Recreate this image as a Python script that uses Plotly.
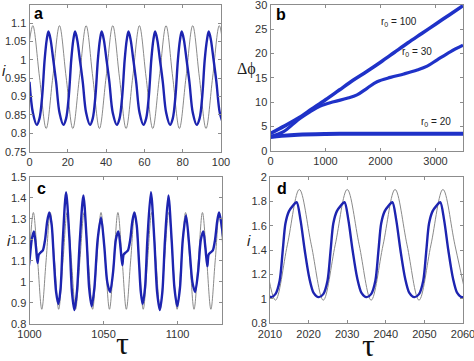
import plotly.graph_objects as go

# ---------------- Panel a ----------------
a_grey_x = [0, 1.74, 5.22, 8.70, 12.17, 15.65, 19.13, 22.61, 26.09, 29.57, 33.04, 36.52, 40.0,
            43.48, 46.96, 50.43, 53.91, 57.39, 60.87, 64.35, 67.83, 71.30, 74.78, 78.26, 81.74,
            85.22, 88.70, 92.17, 95.65, 99.13, 102.6]
a_grey_y = [1.052, 1.093, 0.953, 0.813, 0.953, 1.093, 0.953, 0.813, 0.953, 1.093, 0.953, 0.813, 0.953,
            1.093, 0.953, 0.813, 0.953, 1.093, 0.953, 0.813, 0.953, 1.093, 0.953, 0.813, 0.953,
            1.093, 0.953, 0.813, 0.953, 1.093, 0.953]

a_blue_x = [0, 1.8, 3.8, 5.2, 6.6, 7.9, 9.0, 9.9, 11.0, 12.3, 13.9, 15.7, 17.7, 19.1, 20.5, 21.8, 22.9,
            23.8, 24.9, 26.2, 27.8, 29.6, 31.6, 33.0, 34.4, 35.7, 36.8, 37.7, 38.8, 40.1, 41.7, 43.5,
            45.6, 47.0, 48.4, 49.7, 50.8, 51.7, 52.8, 54.1, 55.7, 57.5, 59.5, 60.9, 62.3, 63.6, 64.7,
            65.6, 66.7, 68.0, 69.6, 71.4, 73.4, 74.8, 76.2, 77.5, 78.6, 79.5, 80.6, 81.9, 83.5, 85.3,
            87.3, 88.8, 90.2, 91.5, 92.7, 93.6, 94.7, 96.0, 97.6, 99.4, 101.4]
a_blue_y = [0.94, 0.855, 0.823, 0.84, 0.90, 1.0, 1.055, 1.077, 1.055, 1.005, 0.94, 0.855, 0.823, 0.84,
            0.90, 1.0, 1.055, 1.077, 1.055, 1.005, 0.94, 0.855, 0.823, 0.84, 0.90, 1.0, 1.055, 1.077,
            1.055, 1.005, 0.94, 0.855, 0.823, 0.84, 0.90, 1.0, 1.055, 1.077, 1.055, 1.005, 0.94, 0.855,
            0.823, 0.84, 0.90, 1.0, 1.055, 1.077, 1.055, 1.005, 0.94, 0.855, 0.823, 0.84, 0.90, 1.0,
            1.055, 1.077, 1.055, 1.005, 0.94, 0.855, 0.823, 0.84, 0.90, 1.0, 1.055, 1.077, 1.055,
            1.005, 0.94, 0.855, 0.823]

a_xticks = [0, 20, 40, 60, 80, 100]
a_yticks = [0.75, 0.8, 0.85, 0.9, 0.95, 1.0, 1.05, 1.1]
a_yticklabels = ["0.75", "0.8", "0.85", "0.9", "0.95", "1", "1.05", "1.1"]

# ---------------- Panel b ----------------
b_r100_x = [0, 250, 500, 750, 1000, 1250, 1500, 1750, 2000, 2250, 2500, 2750, 3000, 3250, 3500]
b_r100_y = [3.6, 5.1, 6.7, 8.6, 10.5, 12.5, 14.5, 16.3, 18.2, 20.2, 22.2, 24.1, 26.0, 27.9, 29.8]
b_r30_x = [0, 237, 389, 541, 723, 905, 1148, 1391, 1573, 1755, 1938, 2181, 2424, 2667, 2849, 3031,
           3276, 3500]
b_r30_y = [2.95, 3.96, 5.33, 6.7, 8.07, 9.23, 10.1, 10.8, 11.5, 12.85, 14.2, 15.1, 15.8, 16.6, 17.4,
           18.7, 20.4, 21.7]
b_r20_x = [0, 200, 500, 1000, 1500, 2000, 2500, 3000, 3500]
b_r20_y = [2.85, 3.1, 3.35, 3.5, 3.55, 3.55, 3.55, 3.55, 3.55]
b_labels = ["r<sub>0</sub> = 100", "r<sub>0</sub> = 30", "r<sub>0</sub> = 20"]
b_label_x = [2330, 2670, 3005]
b_label_y = [26.4, 20.2, 6.0]
b_xticks = [0, 1000, 2000, 3000]
b_yticks = [0, 5, 10, 15, 20, 25, 30]

# ---------------- Panel c ----------------
c_grey_x = [999.7, 1002.6, 1005.5, 1008.3, 1011.2, 1014.0, 1016.9, 1019.7, 1022.6, 1025.4, 1028.3,
            1031.1, 1034.0, 1036.9, 1039.7, 1042.6, 1045.4, 1048.3, 1051.2, 1054.0, 1056.9, 1059.7,
            1062.6, 1065.4, 1068.3, 1071.1, 1074.0, 1076.8, 1079.7, 1082.5, 1085.4, 1088.2, 1091.1,
            1094.0, 1096.8, 1099.7, 1102.5, 1105.4, 1108.3, 1111.1, 1114.0, 1116.8, 1119.7, 1122.5,
            1125.4, 1128.2, 1131.1]
c_grey_y = [1.10, 1.33, 1.10, 0.87, 1.10, 1.33, 1.10, 0.87, 1.10, 1.33, 1.10, 0.87, 1.10, 1.33, 1.10,
            0.87, 1.10, 1.33, 1.10, 0.87, 1.10, 1.33, 1.10, 0.87, 1.10, 1.33, 1.10, 0.87, 1.10, 1.33,
            1.10, 0.87, 1.10, 1.33, 1.10, 0.87, 1.10, 1.33, 1.10, 0.87, 1.10, 1.33, 1.10, 0.87, 1.10,
            1.33, 1.10]

c_blue_x = [997.2, 1000.0, 1001.5, 1003.0, 1004.3, 1005.4, 1006.3, 1007.5, 1009.0, 1010.5, 1012.0,
            1013.4, 1015.0, 1016.5, 1018.0, 1019.5, 1021.0, 1022.5, 1024.7, 1027.0, 1028.7, 1030.3,
            1032.0, 1034.0, 1036.4, 1038.6, 1040.3, 1042.0, 1043.8, 1046.0, 1048.3, 1050.5, 1052.5,
            1054.4, 1056.5, 1058.3, 1060.0, 1061.5, 1062.7, 1063.6, 1065.0, 1066.5, 1068.0, 1069.5,
            1070.8, 1072.4, 1073.9, 1075.2, 1076.4, 1078.0, 1079.6, 1082.0, 1084.3, 1086.2, 1088.0,
            1089.7, 1091.5, 1093.8, 1096.0, 1097.9, 1099.8, 1101.6, 1103.5, 1105.7, 1107.9, 1110.0,
            1111.8, 1113.9, 1115.7, 1117.4, 1118.8, 1120.1, 1121.0, 1122.3, 1123.8, 1125.3, 1126.8,
            1128.0, 1129.5, 1131.0]
c_blue_y = [0.952, 1.10, 1.20, 1.24, 1.17, 1.09, 1.13, 1.14, 1.15, 1.20, 1.29, 1.33, 1.27, 1.10, 0.95,
            0.895, 0.97, 1.20, 1.426, 1.20, 0.95, 0.866, 0.95, 1.20, 1.411, 1.20, 0.97, 0.884, 0.97,
            1.20, 1.305, 1.17, 1.0, 0.952, 1.05, 1.20, 1.24, 1.16, 1.08, 1.13, 1.14, 1.15, 1.20, 1.29,
            1.33, 1.27, 1.10, 0.95, 0.895, 0.97, 1.20, 1.426, 1.20, 0.95, 0.866, 0.95, 1.20, 1.411,
            1.20, 0.97, 0.884, 0.97, 1.20, 1.316, 1.17, 1.0, 0.952, 1.05, 1.20, 1.24, 1.16, 1.074,
            1.13, 1.14, 1.15, 1.20, 1.29, 1.33, 1.28, 1.20]
c_xticks = [1000, 1050, 1100]
c_yticks = [0.8, 0.9, 1.0, 1.1, 1.2, 1.3, 1.4, 1.5]
c_yticklabels = ["0.8", "0.9", "1", "1.1", "1.2", "1.3", "1.4", "1.5"]

# ---------------- Panel d ----------------
d_grey_x = [2008.3, 2011.4, 2014.5, 2017.6, 2020.7, 2023.8, 2026.9, 2030.0, 2033.1, 2036.2, 2039.3,
            2042.4, 2045.5, 2048.6, 2051.7, 2054.8, 2057.9, 2061.0]
d_grey_y = [1.445, 0.99, 1.445, 1.90, 1.445, 0.99, 1.445, 1.90, 1.445, 0.99, 1.445, 1.90, 1.445, 0.99,
            1.445, 1.90, 1.445, 0.99]

d_blue_x = [2009.1, 2010.2, 2011.4, 2012.5, 2013.3, 2014.0, 2014.9, 2015.9, 2016.9, 2017.9, 2019.0,
            2020.2, 2021.3, 2022.6, 2023.8, 2024.9, 2025.7, 2026.4, 2027.3, 2028.3, 2029.3, 2030.3,
            2031.4, 2032.6, 2033.7, 2035.0, 2036.2, 2037.3, 2038.1, 2038.8, 2039.7, 2040.7, 2041.7,
            2042.7, 2043.8, 2045.0, 2046.1, 2047.4, 2048.6, 2049.7, 2050.5, 2051.2, 2052.1, 2053.1,
            2054.1, 2055.1, 2056.2, 2057.4, 2058.5, 2059.8, 2061.0]
d_blue_y = [1.05, 1.015, 1.04, 1.15, 1.40, 1.62, 1.72, 1.765, 1.795, 1.65, 1.40, 1.17, 1.05,
            1.015, 1.04, 1.15, 1.40, 1.62, 1.72, 1.765, 1.795, 1.65, 1.40, 1.17, 1.05,
            1.015, 1.04, 1.15, 1.40, 1.62, 1.72, 1.765, 1.795, 1.65, 1.40, 1.17, 1.05,
            1.015, 1.04, 1.15, 1.40, 1.62, 1.72, 1.765, 1.795, 1.65, 1.40, 1.17, 1.05,
            1.015, 1.04]
d_xticks = [2010, 2020, 2030, 2040, 2050, 2060]
d_yticks = [0.8, 1.0, 1.2, 1.4, 1.6, 1.8, 2.0]
d_yticklabels = ["0.8", "1", "1.2", "1.4", "1.6", "1.8", "2"]

# ---------------- Figure ----------------
W, H = 474, 361
BLUE = "#1d24b0"
BLUE_B = "#1f32c8"
GREY = "#8a8a8a"


def px(xp):
    return xp / W


def py(yp):
    return 1 - yp / H


fig = go.Figure()

fig.add_trace(go.Scatter(x=a_grey_x, y=a_grey_y, mode="lines", line=dict(color=GREY, width=1, shape="spline"),
                         xaxis="x", yaxis="y"))
fig.add_trace(go.Scatter(x=a_blue_x, y=a_blue_y, mode="lines", line=dict(color=BLUE, width=2.4, shape="spline"),
                         xaxis="x", yaxis="y"))

for bx, by_, w in [(b_r100_x, b_r100_y, 3.5), (b_r30_x, b_r30_y, 3.2), (b_r20_x, b_r20_y, 4.0)]:
    fig.add_trace(go.Scatter(x=bx, y=by_, mode="lines", line=dict(color=BLUE_B, width=w, shape="spline"),
                             xaxis="x2", yaxis="y2"))

fig.add_trace(go.Scatter(x=c_grey_x, y=c_grey_y, mode="lines", line=dict(color=GREY, width=1, shape="spline"),
                         xaxis="x3", yaxis="y3"))
fig.add_trace(go.Scatter(x=c_blue_x, y=c_blue_y, mode="lines",
                         line=dict(color=BLUE, width=2.4, shape="spline", smoothing=0.8),
                         xaxis="x3", yaxis="y3"))

fig.add_trace(go.Scatter(x=d_grey_x, y=d_grey_y, mode="lines", line=dict(color=GREY, width=1, shape="spline"),
                         xaxis="x4", yaxis="y4"))
fig.add_trace(go.Scatter(x=d_blue_x, y=d_blue_y, mode="lines",
                         line=dict(color=BLUE, width=2.4, shape="spline", smoothing=0.8),
                         xaxis="x4", yaxis="y4"))

tickfont = dict(family="Liberation Sans, Arial, sans-serif", size=11, color="#333333")
axcommon = dict(showline=True, linecolor="#8c8c8c", linewidth=1, mirror="ticks", ticks="inside",
                ticklen=3, tickcolor="#8c8c8c", showgrid=False, zeroline=False, tickfont=tickfont,
                fixedrange=True, automargin=False, ticklabeloverflow="allow")

fig.update_layout(
    template="none",
    width=W, height=H, margin=dict(l=0, r=0, t=0, b=0, pad=0), showlegend=False,
    paper_bgcolor="white", plot_bgcolor="white",
    xaxis=dict(domain=[px(29.5), px(221)], range=[0, 100], tickvals=a_xticks, anchor="y", **axcommon),
    yaxis=dict(domain=[py(151.7), py(4.7)], range=[0.75, 1.15], tickvals=a_yticks, ticktext=a_yticklabels,
               anchor="x", **axcommon),
    xaxis2=dict(domain=[px(270.5), px(463)], range=[0, 3500], tickvals=b_xticks, anchor="y2", **axcommon),
    yaxis2=dict(domain=[py(151), py(4.7)], range=[0, 30], tickvals=b_yticks, anchor="x2", **axcommon),
    xaxis3=dict(domain=[px(29.5), px(222)], range=[1000, 1130], tickvals=c_xticks, anchor="y3", **axcommon),
    yaxis3=dict(domain=[py(324), py(176.7)], range=[0.8, 1.5], tickvals=c_yticks, ticktext=c_yticklabels,
                anchor="x3", **axcommon),
    xaxis4=dict(domain=[px(270), px(463)], range=[2010, 2060], tickvals=d_xticks, anchor="y4", **axcommon),
    yaxis4=dict(domain=[py(323.3), py(177.3)], range=[0.8, 2.0], tickvals=d_yticks, ticktext=d_yticklabels,
                anchor="x4", **axcommon),
)

ann = []
letter_font = dict(family="Liberation Sans, Arial, sans-serif", size=16, color="black")
for txt, xp_, yp_ in [("a", 31.5, 3), ("b", 273.5, 4), ("c", 35, 177.5), ("d", 274.5, 178)]:
    ann.append(dict(text="<b>%s</b>" % txt, x=px(xp_), y=py(yp_), xref="paper", yref="paper",
                    xanchor="left", yanchor="top", showarrow=False, font=letter_font))

ifont = dict(family="Liberation Sans, Arial, sans-serif", size=15, color="#222222")
for xp_, yp_ in [(4, 70), (8.5, 241), (249, 241)]:
    ann.append(dict(text="<i>i</i>", x=px(xp_), y=py(yp_), xref="paper", yref="paper",
                    xanchor="center", yanchor="middle", showarrow=False, font=ifont))

ann.append(dict(text="Δϕ", x=px(247), y=py(69), xref="paper", yref="paper", xanchor="center",
                yanchor="middle", showarrow=False,
                font=dict(family="Liberation Serif, Times New Roman, serif", size=16, color="#222222")))

taufont = dict(family="Liberation Serif, Times New Roman, serif", size=32, color="#111111")
for xp_, yp_ in [(122, 343), (368, 345)]:
    ann.append(dict(text="τ", x=px(xp_), y=py(yp_), xref="paper", yref="paper", xanchor="center",
                    yanchor="middle", showarrow=False, font=taufont))

for t, lx, ly in zip(b_labels, b_label_x, b_label_y):
    ann.append(dict(text=t, x=lx, y=ly, xref="x2", yref="y2", xanchor="center", yanchor="middle",
                    showarrow=False, font=dict(family="Liberation Sans, Arial, sans-serif", size=10,
                                               color="#222222")))

fig.update_layout(annotations=ann)

fig.write_html("out.html", config={"displayModeBar": False},
               post_script="document.body.style.margin='0px';document.body.style.padding='0px';")
